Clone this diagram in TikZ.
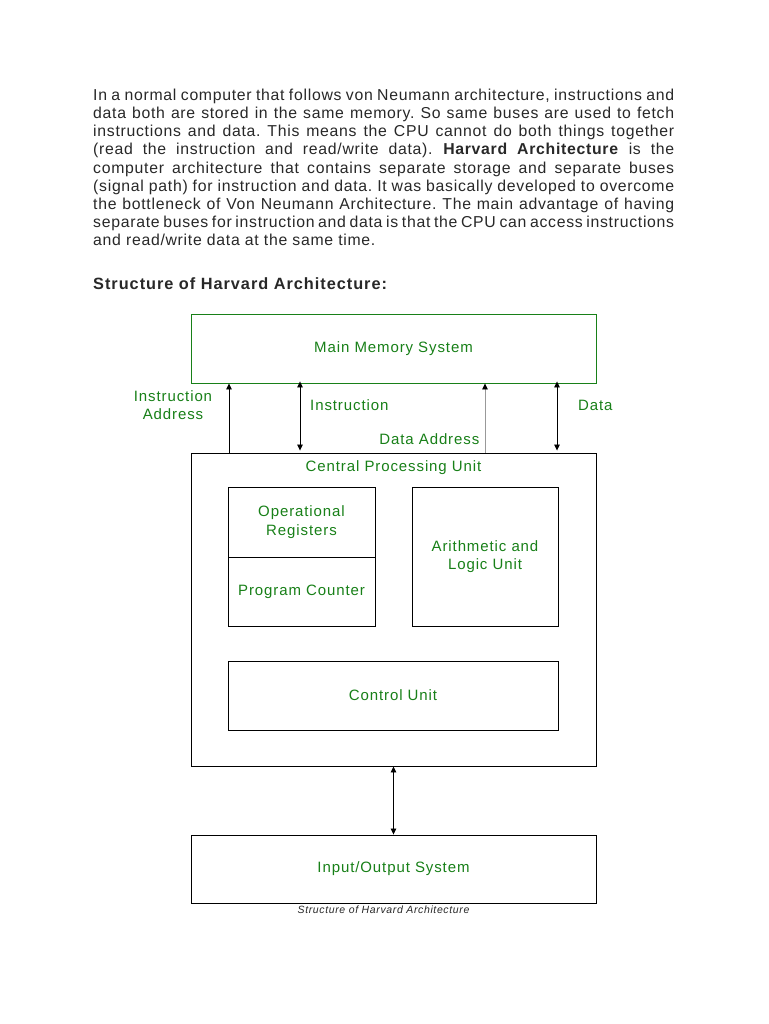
\documentclass[tikz,border=0pt]{standalone}
\usepackage{fontspec}
\setmainfont{Liberation Sans}[LetterSpace=6]
\usetikzlibrary{arrows.meta}
\definecolor{gtext}{RGB}{24,128,24}
\definecolor{ptext}{RGB}{40,40,40}
\begin{document}
\begin{tikzpicture}[x=1pt,y=-1pt,
  box/.style={draw=black,line width=0.9pt,rectangle,inner sep=0pt,text=gtext,align=center,font=\fontsize{15}{18.5}\selectfont},
  lbl/.style={text=gtext,inner sep=0pt,align=center,font=\fontsize{15}{18.5}\selectfont},
  arr/.style={line width=0.8pt,-{Triangle[length=6pt,width=5.5pt,color=black]}},
  darr/.style={line width=0.8pt,{Triangle[length=6pt,width=5.5pt]}-{Triangle[length=6pt,width=5.5pt]}}]
\useasboundingbox (0,0) rectangle (768,1024);
\fill[white] (0,0) rectangle (768,1024);
% paragraph
\node[anchor=north west,inner sep=0pt,text width=581pt,align=justify,text=ptext,
  font=\fontsize{15.8}{18.1}\selectfont\addfontfeature{LetterSpace=4.5}\frenchspacing] (para) at (93,89)
{In a normal computer that follows von Neumann architecture, instructions and\linebreak
data both are stored in the same memory. So same buses are used to fetch\linebreak
instructions and data. This means the CPU cannot do both things together\linebreak
(read the instruction and read/write data). \textbf{Harvard Architecture} is the\linebreak
computer architecture that contains separate storage and separate buses\linebreak
(signal path) for instruction and data. It was basically developed to overcome\linebreak
the bottleneck of Von Neumann Architecture. The main advantage of having\linebreak
separate buses for instruction and data is that the CPU can access instructions\linebreak
and read/write data at the same time.};
\node[anchor=base west,inner sep=0pt,text=ptext,font=\fontsize{16.3}{18}\selectfont\bfseries] (head) at (93,289) {Structure of Harvard Architecture:};
% boxes
\node[box,draw=gtext,minimum width=405pt,minimum height=69pt] (mem) at (393.5,348.5) {Main Memory System};
\node[box,minimum width=405pt,minimum height=313pt] (cpu) at (393.5,609.5) {};
\node[lbl] (cputitle) at (393.5,467.5) {Central Processing Unit};
\node[box,minimum width=147pt,minimum height=70pt] (opreg) at (301.5,522) {Operational\\Registers};
\node[box,minimum width=147pt,minimum height=69pt] (pc) at (301.5,591.5) {Program Counter};
\node[box,minimum width=146pt,minimum height=139pt] (alu) at (485,556.5) {Arithmetic and\\Logic Unit};
\node[box,minimum width=330pt,minimum height=69pt] (cu) at (393,695.5) {Control Unit};
\node[box,minimum width=405pt,minimum height=68pt] (io) at (393.5,869) {Input/Output System};
\node[anchor=base,inner sep=0pt,text=ptext,font=\fontsize{10.5}{12}\selectfont\itshape] (cap) at (383.5,913) {Structure of Harvard Architecture};
% connectors
\draw[arr] (cpu.north -| 229,0) -- (mem.south -| 229,0);
\draw[darr] (cpu.north -| 300,0) ++(0,-2) -- ([yshift=2pt]mem.south -| 300,0);
\draw[arr,draw=gray!80] (cpu.north -| 485,0) -- (mem.south -| 485,0);
\draw[darr] (cpu.north -| 557,0) ++(0,-2) -- ([yshift=2pt]mem.south -| 557,0);
\draw[darr] (cpu.south) -- (io.north);
% labels
\node[lbl] (lia) at (173,405) {Instruction\\Address};
\node[lbl,anchor=west] (lins) at (310,405) {Instruction};
\node[lbl,anchor=east] (lda) at (479.5,439.5) {Data Address};
\node[lbl,anchor=west] (ldata) at (578,405) {Data};
\end{tikzpicture}
\end{document}
